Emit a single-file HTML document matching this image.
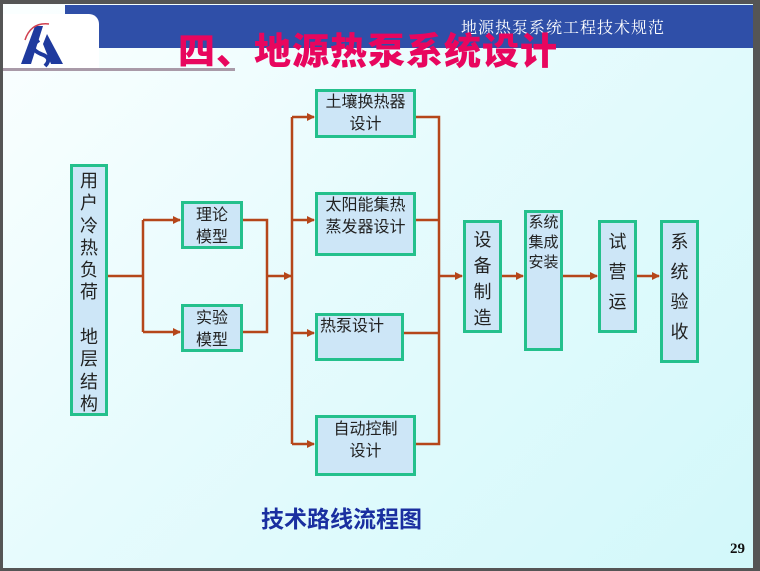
<!DOCTYPE html>
<html><head><meta charset="utf-8"><style>
body{margin:0;width:760px;height:571px;overflow:hidden;background:#555;font-family:"Liberation Sans","Noto Sans CJK SC",sans-serif}
#s{position:absolute;left:3px;top:4px;width:750px;height:564px;background:linear-gradient(135deg,#fbffff 0%,#e6fbfd 45%,#d2f8fa 100%)}
.hd{position:absolute;left:62px;top:1px;width:688px;height:43px;background:#2f4fa8}
.tab{position:absolute;left:0;top:10px;width:96px;height:56px;background:#fff;border-radius:0 10px 0 0}
.b{position:absolute;box-sizing:border-box;border:3px solid #24c08c;background:#cde6f7;color:#222;font-size:16px;text-align:center;line-height:22px}
.v{line-height:25px;font-size:18px;padding-top:2px}
</style></head><body>
<div id="s">
<div class="hd"></div>
<div class="tab"></div>
<div style="position:absolute;left:0;top:64px;width:232px;height:3px;background:#a99aa8"></div>
<svg style="position:absolute;left:14px;top:16px" width="56" height="48"><path d="M4 44 L18 6 L26 6 L14 44Z" fill="#1f3a9e"/><path d="M30 14 L46 44 L34 44 L26 24Z" fill="#1f3a9e"/><path d="M22 20 Q10 28 24 34 Q36 38 28 46" stroke="#1f3a9e" stroke-width="4" fill="none"/><path d="M8 20 Q14 2 32 4" stroke="#d04050" stroke-width="1.5" fill="none"/></svg>
<div style="position:absolute;left:458px;top:11px;color:#fff;font-size:16px;letter-spacing:1px;font-family:'Noto Serif CJK SC',serif">地源热泵系统工程技术规范</div>
<div style="position:absolute;left:175px;top:17px;color:#e8065e;font-size:37px;font-weight:900;letter-spacing:1px;font-family:'Noto Sans CJK SC',sans-serif">四、地源热泵系统设计</div>
<div style="position:absolute;left:258px;top:496px;color:#1a2fa0;font-size:23px;font-weight:bold">技术路线流程图</div>
<div style="position:absolute;left:727px;top:537px;color:#111;font-size:15px;font-weight:bold;font-family:'Liberation Serif',serif">29</div>
</div>
<svg style="position:absolute;left:0;top:0" width="760" height="571">
<defs><marker id="a" markerWidth="8" markerHeight="8" refX="7" refY="4" orient="auto" markerUnits="userSpaceOnUse"><path d="M0 0 L8 4 L0 8Z" fill="#b5461a"/></marker></defs>
<g stroke="#b5461a" stroke-width="2.5" fill="none">
<path d="M108 276H143M143 220V332"/>
<line x1="143" y1="220" x2="180" y2="220" marker-end="url(#a)"/>
<line x1="143" y1="332" x2="180" y2="332" marker-end="url(#a)"/>
<path d="M243 220H267V332H243"/>
<line x1="267" y1="276" x2="291" y2="276" marker-end="url(#a)"/>
<path d="M292 117V444"/>
<line x1="292" y1="117" x2="314" y2="117" marker-end="url(#a)"/>
<line x1="292" y1="220" x2="314" y2="220" marker-end="url(#a)"/>
<line x1="292" y1="333" x2="314" y2="333" marker-end="url(#a)"/>
<line x1="292" y1="444" x2="314" y2="444" marker-end="url(#a)"/>
<path d="M416 117H439V444H416M416 220H439M404 333H439"/>
<line x1="439" y1="276" x2="462" y2="276" marker-end="url(#a)"/>
<line x1="502" y1="276" x2="523" y2="276" marker-end="url(#a)"/>
<line x1="563" y1="276" x2="597" y2="276" marker-end="url(#a)"/>
<line x1="637" y1="276" x2="659" y2="276" marker-end="url(#a)"/>
</g></svg>
<div class="b v" style="left:70px;top:164px;width:38px;height:252px;line-height:22.3px;padding-top:3px">用<br>户<br>冷<br>热<br>负<br>荷<br><br>地<br>层<br>结<br>构</div>
<div class="b" style="left:181px;top:201px;width:62px;height:48px;padding-top:1px">理论<br>模型</div>
<div class="b" style="left:181px;top:304px;width:62px;height:48px;padding-top:1px">实验<br>模型</div>
<div class="b" style="left:315px;top:89px;width:101px;height:49px">土壤换热器<br>设计</div>
<div class="b" style="left:315px;top:192px;width:101px;height:64px">太阳能集热<br>蒸发器设计</div>
<div class="b" style="left:315px;top:313px;width:89px;height:48px;text-align:left;padding-left:2px">热泵设计</div>
<div class="b" style="left:315px;top:415px;width:101px;height:61px;padding-top:1px">自动控制<br>设计</div>
<div class="b v" style="left:463px;top:220px;width:39px;height:113px;padding-top:4px;line-height:26px">设<br>备<br>制<br>造</div>
<div class="b" style="left:524px;top:210px;width:39px;height:141px;font-size:15px;line-height:20px">系统<br>集成<br>安装</div>
<div class="b v" style="left:598px;top:220px;width:39px;height:113px;padding-top:4px;line-height:30px">试<br>营<br>运</div>
<div class="b v" style="left:660px;top:220px;width:39px;height:143px;padding-top:4px;line-height:30px">系<br>统<br>验<br>收</div>
</body></html>
